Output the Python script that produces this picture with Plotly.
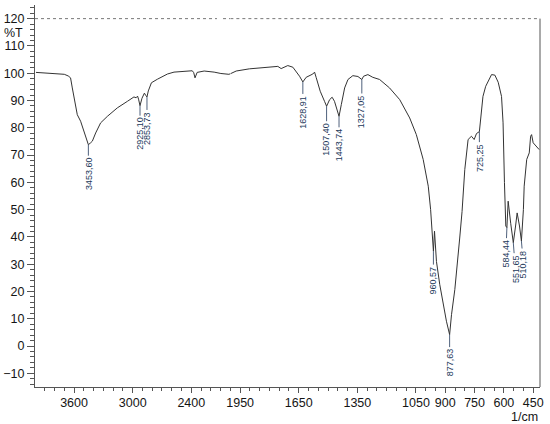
import numpy as np
import plotly.graph_objects as go

# ---- data (wavenumber in 1/cm, transmittance %T) ----
wavenumber = [3990, 3900, 3800, 3700, 3660, 3636, 3618, 3595, 3567, 3533, 3499, 3470,
              3453.6, 3430, 3413, 3379, 3328, 3259, 3157, 3054, 2987, 2965, 2950, 2940,
              2925.1, 2905, 2880, 2865, 2853.73, 2840, 2808, 2747, 2644, 2577, 2474, 2390,
              2375, 2362, 2340, 2268, 2166, 2097, 2015, 2000,
              1970, 1903, 1835, 1775, 1757, 1740, 1706, 1680, 1663, 1646, 1628.91, 1612,
              1578, 1569, 1561, 1540, 1518, 1507.4, 1492, 1479, 1467, 1455, 1443.74, 1432,
              1415, 1398, 1373, 1347, 1327.05, 1318, 1296, 1271, 1236, 1185, 1133, 1082,
              1048, 1013, 987, 975, 968, 960.57, 955, 945, 928, 911, 894, 877.63, 868,
              851, 838, 826, 814, 800, 783, 766, 752, 740, 725.25, 718, 707, 693, 681,
              663, 646, 629, 612, 604, 597, 590, 584.44, 578, 565, 551.65, 540, 532, 520,
              510.18, 500, 496, 483, 470, 463, 458, 450, 432, 419]
transmittance = [100.3, 100.1, 99.9, 99.6, 99.0, 98.3, 94.6, 90.3, 84.8, 82.4, 78.7, 75.5,
                 73.8, 74.5, 75.1, 78.1, 81.8, 84.2, 87.3, 89.7, 91.3, 91.0, 91.6, 90.5,
                 88.1, 90.8, 92.7, 91.8, 91.3, 93.5, 96.5, 97.8, 99.7, 100.4, 100.8, 100.9,
                 100.2, 98.3, 100.3, 100.8, 100.4, 99.9, 99.6, 99.8,
                 100.8, 101.6, 102.1, 102.4, 102.5, 101.7, 102.8, 102.2, 100.7, 98.9, 96.8, 98.5,
                 99.7, 100.4, 98.5, 93.4, 89.7, 87.9, 90.3, 91.2, 89.7, 86.7, 84.2, 88.5,
                 94.6, 97.7, 99.1, 98.8, 97.7, 98.9, 99.5, 98.5, 97.7, 94.6, 90.3, 83.6,
                 77.5, 68.4, 58.6, 50.1, 42.0, 34.8, 42.1, 31.0, 22.5, 15.2, 9.1, 4.2, 11.5,
                 20.7, 29.8, 39.6, 49.3, 64.7, 75.7, 76.9, 75.7, 77.9, 78.6, 84.2, 91.5, 95.2, 97.0,
                 99.5, 99.3, 96.7, 91.5, 81.8, 60.0, 44.0, 43.4, 53.1, 45.0, 37.9, 44.0, 48.8, 44.0,
                 38.5, 50.0, 58.6, 68.4, 70.8, 76.9, 77.5, 74.5, 73.2, 72.0]

peak_labels = [3453.60, 2925.10, 2853.73, 1628.91, 1507.40, 1443.74, 1327.05,
               960.57, 877.63, 725.25, 584.44, 551.65, 510.18]
peak_offsets = [29, 28, 31, 30, 33, 29, 32, 29, 28, 26, 26, 26, 23]
peak_shift = [0, 0, 0, 0, 0, 0, 0, 0, 0, 0, -1, 2, 2]

y_ticks = list(range(-10, 121, 10))
x1_major = [3900, 3600, 3300, 3000, 2700, 2400, 2100]
x1_labels = ["", "3600", "", "3000", "", "2400", ""]
x2_major = [1950, 1800, 1650, 1500, 1350, 1200, 1050, 900, 750, 600, 450]
x2_labels = ["1950", "", "1650", "", "1350", "", "1050", "900", "750", "600", "450"]

# ---- figure ----
wn = np.array(wavenumber, dtype=float)
tr = np.array(transmittance, dtype=float)
hi = wn >= 2000
lo = wn <= 2000

split = 2000 * 1.0 / (2000 * 1.0 + (2000 - 415) * 2.0)

FONT = "Liberation Sans, Arial, sans-serif"
LINE = "#333333"
AX = "#555555"
LAB = "#22385a"
TXT = "#151515"

fig = go.Figure()
fig.add_trace(go.Scatter(x=wn[hi], y=tr[hi], mode="lines", xaxis="x", yaxis="y",
                         line=dict(color=LINE, width=1), showlegend=False, hoverinfo="skip"))
fig.add_trace(go.Scatter(x=wn[lo], y=tr[lo], mode="lines", xaxis="x2", yaxis="y",
                         line=dict(color=LINE, width=1), showlegend=False, hoverinfo="skip"))

order = np.argsort(wn)
annotations = []
for p, off, sh in zip(peak_labels, peak_offsets, peak_shift):
    yv = float(np.interp(p, wn[order], tr[order]))
    annotations.append(dict(
        x=p, y=yv, xref="x" if p > 2000 else "x2", yref="y",
        text=f"{p:.2f}".replace(".", ","), textangle=-90,
        showarrow=True, arrowhead=0, arrowwidth=0.8, arrowcolor=LAB,
        ax=sh, ay=off, standoff=0,
        font=dict(family=FONT, size=9, color=LAB)))

annotations.append(dict(text="%T", xref="paper", yref="paper", x=-0.019, y=0.927,
                        xanchor="right", yanchor="middle", showarrow=False,
                        font=dict(family=FONT, size=12.5, color=TXT)))
annotations.append(dict(text="1/cm", xref="paper", yref="paper", x=1.0, y=-0.078,
                        xanchor="right", yanchor="middle", showarrow=False,
                        font=dict(family=FONT, size=12.5, color=TXT)))

shapes = []
# dotted upper frame line at 120 %T (with the small breaks seen in the original)
for xr, a, b in [("x", 4000, 2137), ("x", 2075, 2000), ("x2", 2000, 912), ("x2", 876, 415)]:
    shapes.append(dict(type="line", xref=xr, yref="y", x0=a, x1=b, y0=120, y1=120,
                       line=dict(color="#777777", width=1, dash="dot")))
# right frame line
shapes.append(dict(type="line", xref="paper", yref="y", x0=1, x1=1, y0=-15, y1=120,
                   line=dict(color=AX, width=1)))

common_x = dict(showline=True, linecolor=AX, linewidth=1, ticks="outside", ticklen=5,
                tickcolor=AX, tickwidth=1, showgrid=False, zeroline=False, automargin=False,
                tickfont=dict(family=FONT, size=12.5, color=TXT), anchor="y",
                tickmode="array", ticklabelstandoff=-1)

fig.update_layout(
    width=550, height=424,
    margin=dict(l=35, r=10, t=5, b=37, autoexpand=False),
    paper_bgcolor="white", plot_bgcolor="white",
    xaxis=dict(domain=[0, split], range=[4000, 2000], tickvals=x1_major, ticktext=x1_labels,
               minor=dict(tickmode="array", tickvals=list(range(3900, 1999, -100)),
                          ticklen=3, tickcolor=AX, ticks="outside"),
               **common_x),
    xaxis2=dict(domain=[split, 1], range=[2000, 415], tickvals=x2_major, ticktext=x2_labels,
                minor=dict(tickmode="array", tickvals=list(range(2000, 415, -50)),
                           ticklen=3, tickcolor=AX, ticks="outside"),
                **common_x),
    yaxis=dict(range=[-15, 125], tickmode="array", tickvals=y_ticks, automargin=False,
               showline=True, linecolor=AX, linewidth=1, ticks="outside", ticklen=7,
               tickcolor=AX, showgrid=False, zeroline=False,
               minor=dict(dtick=2, tick0=0, ticklen=4, tickcolor=AX, ticks="outside"),
               tickfont=dict(family=FONT, size=12.5, color=TXT)),
    annotations=annotations,
    shapes=shapes,
)

fig.write_html("out.html", config={"displayModeBar": False},
               post_script="document.body.style.margin='0';document.body.style.overflow='hidden';")
